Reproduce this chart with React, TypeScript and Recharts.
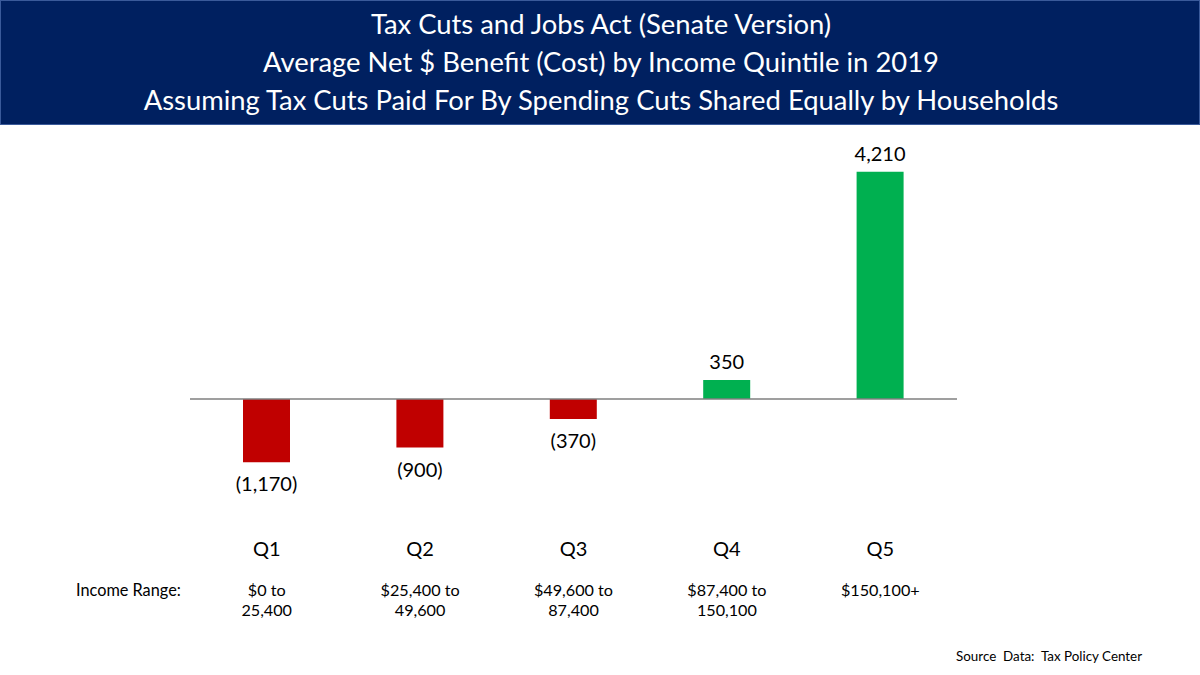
import React from "react";
import { BarChart, Bar, XAxis, YAxis, Cell, LabelList, ReferenceLine } from "recharts";

const quintiles = ["Q1", "Q2", "Q3", "Q4", "Q5"];
const netBenefit = [-1170, -900, -370, 350, 4210];
const incomeLine1 = ["$0 to", "$25,400 to", "$49,600 to", "$87,400 to", "$150,100+"];
const incomeLine2 = ["25,400", "49,600", "87,400", "150,100", ""];
const titleLines = [
  "Tax Cuts and Jobs Act (Senate Version)",
  "Average Net $ Benefit (Cost) by Income Quintile in 2019",
  "Assuming Tax Cuts Paid For By Spending Cuts Shared Equally by Households",
];

const data = quintiles.map((q, i) => ({
  name: q,
  value: netBenefit[i],
  inc1: incomeLine1[i],
  inc2: incomeLine2[i],
}));

const FONT = "Lato, 'Open Sans', sans-serif";
const RED = "#C00000";
const GREEN = "#00B050";

const fmt = (v: number) => {
  const s = Math.abs(v).toLocaleString("en-US");
  return v < 0 ? `(${s})` : s;
};

const ValueLabel = (props: any) => {
  const { x, y, width, height, value } = props;
  const cx = x + width / 2;
  const top = Math.min(y, y + height);
  const bottom = Math.max(y, y + height);
  if (value < 0) {
    return (
      <text x={cx} y={bottom + 29} textAnchor="middle" fontSize={20} fill="#000" fontFamily={FONT}>
        {fmt(value)}
      </text>
    );
  }
  return (
    <text x={cx} y={top - 11} textAnchor="middle" fontSize={20} fill="#000" fontFamily={FONT}>
      {fmt(value)}
    </text>
  );
};

const QuintileTick = (props: any) => {
  const { x, y, index } = props;
  const d = data[index];
  if (!d) return null;
  return (
    <g>
      <text x={x} y={y + 41} textAnchor="middle" fontSize={20} fill="#000" fontFamily={FONT}>
        {d.name}
      </text>
      <text x={x} y={y + 81} textAnchor="middle" fontSize={16.2} fill="#000" fontFamily={FONT}>
        {d.inc1}
      </text>
      <text x={x} y={y + 101} textAnchor="middle" fontSize={16.2} fill="#000" fontFamily={FONT}>
        {d.inc2}
      </text>
    </g>
  );
};

export default function App() {
  return (
    <div
      style={{
        position: "absolute",
        left: 0,
        top: 0,
        width: 1200,
        height: 675,
        background: "#fff",
        overflow: "hidden",
        fontFamily: FONT,
      }}
    >
      <div
        style={{
          position: "absolute",
          left: 0,
          top: 0,
          width: 1200,
          height: 125,
          background: "#002060",
          boxSizing: "border-box",
          border: "1px solid #3a5a9a",
          color: "#fff",
          textAlign: "center",
        }}
      >
        {titleLines.map((t, i) => (
          <div
            key={i}
            style={{
              position: "absolute",
              left: 0,
              width: 1200,
              top: 5 + i * 38,
              fontSize: 27.4,
              lineHeight: "36px",
            }}
          >
            {t}
          </div>
        ))}
      </div>

      <div style={{ position: "absolute", left: 0, top: 0 }}>
        <BarChart
          width={1200}
          height={675}
          data={data}
          margin={{ top: 156, right: 243, bottom: 138, left: 190 }}
        >
          <YAxis hide domain={[-2000, 4500]} type="number" allowDataOverflow />
          <XAxis
            dataKey="name"
            axisLine={false}
            tickLine={false}
            tick={<QuintileTick />}
            interval={0}
            height={30}
          />
          <ReferenceLine y={0} stroke="#7f7f7f" strokeWidth={1.3} />
          <Bar dataKey="value" barSize={47} isAnimationActive={false}>
            {data.map((d, i) => (
              <Cell key={i} fill={d.value < 0 ? RED : GREEN} />
            ))}
            <LabelList dataKey="value" content={<ValueLabel />} />
          </Bar>
        </BarChart>
      </div>

      <div
        style={{
          position: "absolute",
          left: 76,
          top: 580,
          fontSize: 16.3,
          color: "#000",
          lineHeight: "20px",
        }}
      >
        Income Range:
      </div>
      <div
        style={{
          position: "absolute",
          left: 956,
          top: 647,
          fontSize: 13.4,
          color: "#000",
          lineHeight: "18px",
          whiteSpace: "pre",
        }}
      >
        {"Source  Data:  Tax Policy Center"}
      </div>
    </div>
  );
}
